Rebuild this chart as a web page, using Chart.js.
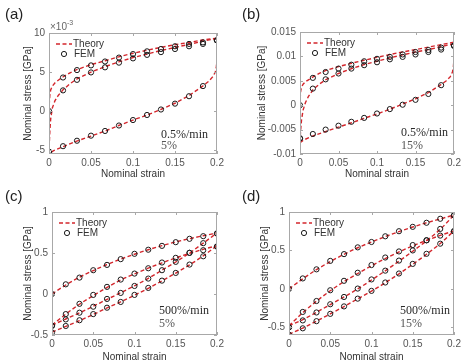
<!DOCTYPE html>
<html><head><meta charset="utf-8">
<script src="https://cdn.jsdelivr.net/npm/chart.js@4.4.0/dist/chart.umd.min.js"></script>
<style>
html,body{margin:0;padding:0;background:#fff;}
#wrap{position:relative;width:474px;height:363px;overflow:hidden;}
canvas{position:absolute;}
</style></head><body>
<div id="wrap">
<canvas id="ca" width="237" height="181" style="left:0;top:0"></canvas>
<canvas id="cb" width="237" height="181" style="left:237px;top:0"></canvas>
<canvas id="cc" width="237" height="182" style="left:0;top:181px"></canvas>
<canvas id="cd" width="237" height="182" style="left:237px;top:181px"></canvas>
</div>
<script>
// ---------- shared tick labels / grids ----------
const xTicks = [0, 0.05, 0.1, 0.15, 0.2];
const strainFEM = [0, 0.0167, 0.0333, 0.05, 0.0667, 0.0833, 0.1, 0.1167, 0.1333, 0.15, 0.1667, 0.1833, 0.2];
const strainTheoryLoad = [0, 0.0005, 0.001, 0.002, 0.004, 0.007, 0.011, 0.017, 0.025, 0.033, 0.05, 0.067, 0.083, 0.1, 0.117, 0.133, 0.15, 0.167, 0.183, 0.2];
const strainTheoryUnload = [0.2, 0.2, 0.1998, 0.1993, 0.198, 0.195, 0.19, 0.183, 0.167, 0.15, 0.133, 0.117, 0.1, 0.083, 0.067, 0.05, 0.033, 0.017, 0.005, 0];

// ---------- panel (a): 0.5%/min, 5%  (units 1e-3 GPa) ----------
const aYTicks = [-5, 0, 5, 10];
const aFemLoad1 = [0, 4.3, 5.25, 5.85, 6.35, 6.85, 7.3, 7.65, 7.95, 8.3, 8.6, 8.8, 9.05];
const aFemLoad2 = [-5.2, 2.65, 4.0, 4.95, 5.6, 6.2, 6.75, 7.2, 7.55, 7.95, 8.3, 8.6, 9.05];
const aFemUnload = [-5.2, -4.5, -3.8, -3.15, -2.55, -1.85, -1.15, -0.5, 0.2, 0.95, 1.9, 3.2, 9.05];
const aThLoad1 = [0, 1.3, 2.0, 2.7, 3.2, 3.6, 3.95, 4.4, 4.9, 5.3, 5.95, 6.45, 6.95, 7.4, 7.8, 8.15, 8.5, 8.8, 9.1, 9.35];
const aThLoad2 = [-5.5, -3.8, -2.6, -1.0, 0.4, 1.3, 2.0, 2.75, 3.5, 4.1, 5.0, 5.7, 6.3, 6.85, 7.3, 7.75, 8.15, 8.55, 8.95, 9.3];
const aThUnload = [9.3, 7.8, 6.6, 5.7, 5.0, 4.4, 3.8, 3.2, 2.0, 1.0, 0.2, -0.5, -1.15, -1.85, -2.55, -3.2, -3.85, -4.55, -5.1, -5.5];

// ---------- panel (b): 0.5%/min, 15% ----------
const bYTicks = [-0.01, -0.005, 0, 0.005, 0.01, 0.015];
const bFemLoad1 = [0, 0.0056, 0.0068, 0.0075, 0.0083, 0.009, 0.0095, 0.0099, 0.0104, 0.0109, 0.0113, 0.0118, 0.0122];
const bFemLoad2 = [-0.0068, 0.0034, 0.0053, 0.0065, 0.0075, 0.0082, 0.0088, 0.0094, 0.0099, 0.0104, 0.0109, 0.0114, 0.0122];
const bFemUnload = [-0.0068, -0.0059, -0.005, -0.0042, -0.0034, -0.0026, -0.0017, -0.0008, 0.0001, 0.0011, 0.0023, 0.0041, 0.0122];
const bThLoad1 = [0, 0.0022, 0.003, 0.0037, 0.0043, 0.0048, 0.0052, 0.0058, 0.0065, 0.0071, 0.0079, 0.0086, 0.0092, 0.0098, 0.0104, 0.0109, 0.0114, 0.0119, 0.0124, 0.0129];
const bThLoad2 = [-0.0077, -0.006, -0.0048, -0.003, -0.001, 0.0005, 0.0018, 0.0032, 0.0043, 0.0052, 0.0065, 0.0075, 0.0083, 0.009, 0.0097, 0.0103, 0.0109, 0.0114, 0.012, 0.0126];
const bThUnload = [0.0126, 0.0105, 0.0092, 0.008, 0.0068, 0.0058, 0.005, 0.0042, 0.0026, 0.0013, 0.0002, -0.0008, -0.0018, -0.0027, -0.0036, -0.0045, -0.0054, -0.0063, -0.0071, -0.0077];

// ---------- panel (c): 500%/min, 5% ----------
const cdYTicks = [-0.5, 0, 0.5, 1];
const cFemLoad1 = [0, 0.118, 0.2, 0.29, 0.355, 0.425, 0.49, 0.54, 0.587, 0.632, 0.673, 0.705, 0.738];
const cFemUnload1 = [-0.387, -0.31, -0.228, -0.155, -0.06, 0.013, 0.098, 0.188, 0.29, 0.392, 0.502, 0.62, 0.738];
const cFemLoad2 = [-0.387, -0.245, -0.12, -0.011, 0.087, 0.176, 0.249, 0.314, 0.384, 0.441, 0.502, 0.534, 0.579];
const cFemUnload2 = [-0.469, -0.39, -0.32, -0.245, -0.167, -0.097, -0.011, 0.074, 0.163, 0.257, 0.359, 0.46, 0.579];
const cThLoad1 = [0, 0.11, 0.205, 0.285, 0.36, 0.425, 0.485, 0.54, 0.59, 0.635, 0.675, 0.71, 0.745];
const cThUnload1 = [-0.38, -0.305, -0.23, -0.15, -0.065, 0.015, 0.1, 0.19, 0.29, 0.39, 0.5, 0.62, 0.745];
const cThLoad2 = [-0.38, -0.245, -0.125, -0.02, 0.08, 0.17, 0.245, 0.315, 0.38, 0.44, 0.495, 0.545, 0.59];
const cThUnload2 = [-0.465, -0.395, -0.325, -0.25, -0.17, -0.095, -0.015, 0.07, 0.16, 0.255, 0.355, 0.465, 0.59];

// ---------- panel (d): 500%/min, 15% ----------
const dFemLoad1 = [0, 0.136, 0.254, 0.364, 0.452, 0.54, 0.61, 0.684, 0.75, 0.807, 0.86, 0.912, 0.956];
const dFemUnload1 = [-0.5, -0.41, -0.307, -0.2, -0.105, 0.004, 0.123, 0.237, 0.368, 0.5, 0.632, 0.78, 0.956];
const dFemLoad2 = [-0.5, -0.3, -0.158, -0.018, 0.105, 0.21, 0.31, 0.408, 0.487, 0.57, 0.632, 0.693, 0.75];
const dFemUnload2 = [-0.596, -0.513, -0.42, -0.325, -0.228, -0.127, -0.026, 0.083, 0.2, 0.325, 0.456, 0.588, 0.75];
const dThLoad1 = [0, 0.13, 0.25, 0.355, 0.45, 0.535, 0.61, 0.68, 0.745, 0.805, 0.86, 0.91, 0.96];
const dThUnload1 = [-0.48, -0.4, -0.305, -0.205, -0.105, 0.0, 0.115, 0.235, 0.36, 0.49, 0.625, 0.775, 0.96];
const dThLoad2 = [-0.48, -0.31, -0.16, -0.025, 0.095, 0.2, 0.3, 0.395, 0.48, 0.56, 0.63, 0.695, 0.755];
const dThUnload2 = [-0.59, -0.51, -0.42, -0.325, -0.23, -0.13, -0.03, 0.08, 0.195, 0.32, 0.45, 0.59, 0.755];

// ---------- texts ----------
const xTitle = 'Nominal strain';
const yTitle = 'Nominal stress [GPa]';
const legendTheory = 'Theory';
const legendFEM = 'FEM';

// ---------- helpers ----------
const RED = '#d3262c';
const pts = (xs, ys) => xs.map((x, i) => ({x: x, y: ys[i]}));
const femSet = ys => ({data: pts(strainFEM, ys), showLine: false, pointStyle: 'circle', pointRadius: 2.6,
  pointBorderWidth: 1, pointBorderColor: '#1a1a1a', pointBackgroundColor: 'rgba(0,0,0,0)', pointHoverRadius: 2.6});
const thSet = (xs, ys) => ({data: pts(xs, ys), showLine: true, pointRadius: 0, borderColor: RED,
  borderWidth: 1.4, borderDash: [4, 2.5], tension: 0.35, cubicInterpolationMode: 'monotone', fill: false});
const thSetLin = (xs, ys) => ({data: pts(xs, ys), showLine: true, pointRadius: 0, borderColor: RED,
  borderWidth: 1.4, borderDash: [4, 2.5], tension: 0, fill: false});

const deco = {
  id: 'deco',
  afterDatasetsDraw(chart) {
    const o = chart.options.plugins.deco;
    const ctx = chart.ctx, a = chart.chartArea, xs = chart.scales.x, ys = chart.scales.y;
    ctx.save();
    // box
    ctx.strokeStyle = '#a8a8a8'; ctx.lineWidth = 1;
    ctx.strokeRect(Math.round(a.left) + 0.5, Math.round(a.top) + 0.5,
      Math.round(a.right - a.left) - 1, Math.round(a.bottom - a.top) - 1);
    // inward ticks
    ctx.beginPath();
    xs.ticks.forEach(t => {
      const p = Math.round(xs.getPixelForValue(t.value)) + 0.5;
      ctx.moveTo(p, a.bottom); ctx.lineTo(p, a.bottom - 3);
      ctx.moveTo(p, a.top); ctx.lineTo(p, a.top + 3);
    });
    ys.ticks.forEach(t => {
      const p = Math.round(ys.getPixelForValue(t.value)) + 0.5;
      ctx.moveTo(a.left, p); ctx.lineTo(a.left + 3, p);
      ctx.moveTo(a.right, p); ctx.lineTo(a.right - 3, p);
    });
    ctx.stroke();
    // legend
    const L = a.left, T = a.top;
    ctx.strokeStyle = RED; ctx.lineWidth = 1.4; ctx.setLineDash([4, 2.5]);
    ctx.beginPath(); ctx.moveTo(L + 7, T + 11); ctx.lineTo(L + 23, T + 11); ctx.stroke();
    ctx.setLineDash([]);
    ctx.strokeStyle = '#1a1a1a'; ctx.lineWidth = 1;
    ctx.beginPath(); ctx.arc(L + 15, T + 21, 2.6, 0, Math.PI * 2); ctx.stroke();
    ctx.fillStyle = '#333'; ctx.font = '10px "Liberation Sans", Arial, sans-serif';
    ctx.textBaseline = 'middle'; ctx.textAlign = 'left';
    ctx.fillText(legendTheory, L + 24, T + 11);
    ctx.fillText(legendFEM, L + 25, T + 21);
    // annotation
    ctx.font = '12px "Liberation Serif", "Times New Roman", serif';
    ctx.fillStyle = '#2a2a2a';
    ctx.fillText(o.rate, a.right - o.annDx, a.bottom - o.annDy1);
    ctx.fillStyle = '#555';
    ctx.fillText(o.amp, a.right - o.annDx, a.bottom - o.annDy2);
    // panel letter
    ctx.fillStyle = '#222'; ctx.font = '15px "Liberation Sans", Arial, sans-serif';
    ctx.fillText(o.letter, 5, o.letterY);
    // exponent
    if (o.exp) {
      ctx.fillStyle = '#666'; ctx.font = '10px "Liberation Sans", Arial, sans-serif';
      ctx.fillText('\u00d710', L + 1, T - 6);
      const w = ctx.measureText('\u00d710').width;
      ctx.font = '7px "Liberation Sans", Arial, sans-serif';
      ctx.fillText('-3', L + 1 + w, T - 10);
    }
    ctx.restore();
  }
};

function makeChart(id, cfg) {
  new Chart(document.getElementById(id), {
    type: 'scatter',
    data: {datasets: cfg.datasets},
    plugins: [deco],
    options: {
      responsive: false, maintainAspectRatio: false, animation: false,
      events: [],
      layout: {padding: {left: cfg.padLeft, top: cfg.padTop, right: cfg.padRight, bottom: 0}},
      plugins: {legend: {display: false}, tooltip: {enabled: false},
        deco: {letter: cfg.letter, letterY: cfg.letterY, rate: cfg.rate, amp: cfg.amp,
               annDx: cfg.annDx, annDy1: cfg.annDy1, annDy2: cfg.annDy2, exp: cfg.exp}},
      scales: {
        x: {type: 'linear', min: 0, max: 0.2,
          afterBuildTicks: s => { s.ticks = xTicks.map(v => ({value: v})); },
          afterFit: s => { s.height = cfg.xH; },
          grid: {display: false, drawTicks: false}, border: {display: false},
          ticks: {autoSkip: false, maxRotation: 0, padding: 3, color: '#555',
            font: {family: '"Liberation Sans", Arial, sans-serif', size: 10},
            callback: v => String(v)},
          title: {display: true, text: xTitle, color: '#333', padding: {top: 0, bottom: cfg.xTitlePad},
            font: {family: '"Liberation Sans", Arial, sans-serif', size: 10}}},
        y: {type: 'linear', min: cfg.ymin, max: cfg.ymax,
          afterBuildTicks: s => { s.ticks = cfg.yTicks.map(v => ({value: v})); },
          afterFit: s => { s.width = cfg.yW; },
          grid: {display: false, drawTicks: false}, border: {display: false},
          ticks: {autoSkip: false, padding: 4, color: '#555',
            font: {family: '"Liberation Sans", Arial, sans-serif', size: 10},
            callback: v => String(v)},
          title: {display: true, text: yTitle, color: '#333', padding: {top: 0, bottom: 0},
            font: {family: '"Liberation Sans", Arial, sans-serif', size: 10}}}
      }
    }
  });
}

makeChart('ca', {
  letter: '(a)', letterY: 15, rate: '0.5%/min', amp: '5%', annDx: 56, annDy1: 19, annDy2: 8, exp: true,
  padLeft: 22, padTop: 33, padRight: 20, yW: 27, xH: 27, xTitlePad: 1,
  ymin: -5.5, ymax: 10, yTicks: aYTicks,
  datasets: [femSet(aFemLoad1), femSet(aFemLoad2), femSet(aFemUnload),
    thSetLin(strainTheoryLoad, aThLoad1), thSetLin(strainTheoryLoad, aThLoad2), thSetLin(strainTheoryUnload, aThUnload)]
});
makeChart('cb', {
  letter: '(b)', letterY: 15, rate: '0.5%/min', amp: '15%', annDx: 53, annDy1: 21, annDy2: 8, exp: false,
  padLeft: 19, padTop: 32, padRight: 20, yW: 44, xH: 27, xTitlePad: 1,
  ymin: -0.01, ymax: 0.015, yTicks: bYTicks,
  datasets: [femSet(bFemLoad1), femSet(bFemLoad2), femSet(bFemUnload),
    thSetLin(strainTheoryLoad, bThLoad1), thSetLin(strainTheoryLoad, bThLoad2), thSetLin(strainTheoryUnload, bThUnload)]
});
makeChart('cc', {
  letter: '(c)', letterY: 16, rate: '500%/min', amp: '5%', annDx: 58, annDy1: 24, annDy2: 11, exp: false,
  padLeft: 22, padTop: 31, padRight: 20, yW: 30, xH: 28, xTitlePad: 0,
  ymin: -0.5, ymax: 1, yTicks: cdYTicks,
  datasets: [femSet(cFemLoad1), femSet(cFemUnload1), femSet(cFemLoad2), femSet(cFemUnload2),
    thSet(strainFEM, cThLoad1), thSet(strainFEM, cThUnload1), thSet(strainFEM, cThLoad2), thSet(strainFEM, cThUnload2)]
});
makeChart('cd', {
  letter: '(d)', letterY: 16, rate: '500%/min', amp: '15%', annDx: 54, annDy1: 24, annDy2: 11, exp: false,
  padLeft: 22, padTop: 31, padRight: 20, yW: 30, xH: 28, xTitlePad: 0,
  ymin: -0.6, ymax: 1, yTicks: cdYTicks,
  datasets: [femSet(dFemLoad1), femSet(dFemUnload1), femSet(dFemLoad2), femSet(dFemUnload2),
    thSet(strainFEM, dThLoad1), thSet(strainFEM, dThUnload1), thSet(strainFEM, dThLoad2), thSet(strainFEM, dThUnload2)]
});
</script>
</body></html>
